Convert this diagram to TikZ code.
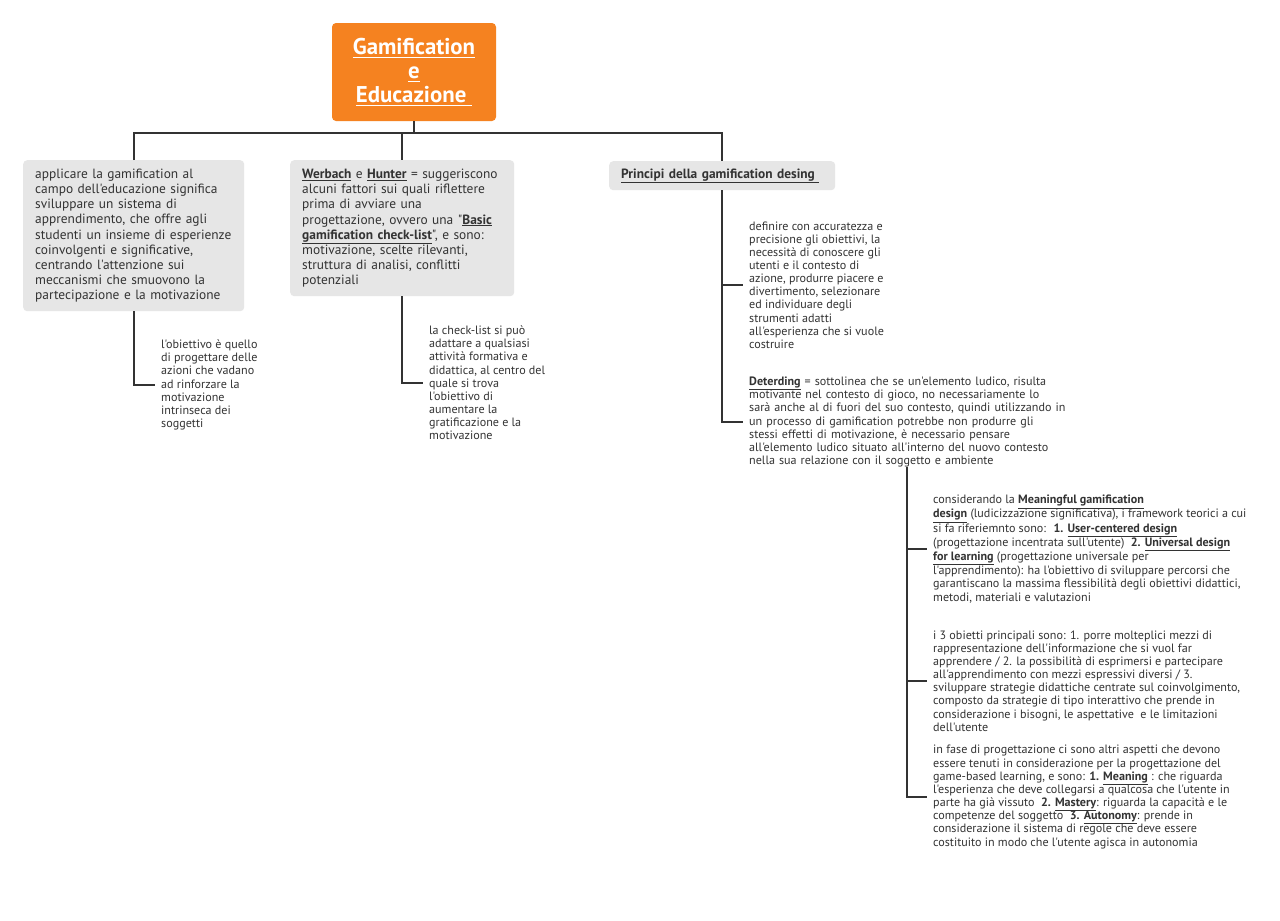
\documentclass[tikz,border=0pt]{standalone}
\usepackage{fontspec}
\setmainfont{PT Sans}[Ligatures=TeXOff]
\definecolor{orng}{HTML}{F58220}
\definecolor{boxg}{HTML}{E6E6E6}
\definecolor{linec}{HTML}{333333}
\definecolor{txt}{HTML}{333333}
\begin{document}
\begin{tikzpicture}[x=1pt,y=-1pt,
  conn/.style={draw=linec, line width=2pt},
  gbox/.style={fill=boxg, rounded corners=4pt, text=txt, align=left, inner xsep=12pt, inner ysep=0pt, anchor=north west, font=\fontsize{13.4}{15.2}\selectfont},
  leaf/.style={text=txt, align=left, anchor=west, inner xsep=6pt, inner ysep=0pt, font=\fontsize{12.1}{13.15}\selectfont}]
\useasboundingbox (0,0) rectangle (1280,921);
\fill[white] (0,0) rectangle (1280,921);

\node[fill=orng, rounded corners=4pt, minimum width=164pt, minimum height=98pt, inner sep=0pt, text=white, align=center, font=\bfseries\fontsize{22.8}{24}\selectfont] (title) at (414,72) {\underline{Gamification}\\\underline{e}\\\underline{Educazione~}};

\node[gbox, text width=197pt, minimum height=151pt] (b1) at (23,160) {applicare la gamification al\\campo dell'educazione significa\\sviluppare un sistema di\\apprendimento, che offre agli\\\mbox{studenti un insieme di esperienze}\\coinvolgenti e significative,\\centrando l'attenzione sui\\meccanismi che smuovono la\\partecipazione e la motivazione};

\node[gbox, text width=200pt, minimum height=136pt] (b2) at (290,160) {\underline{\textbf{Werbach}} e \underline{\textbf{Hunter}} = suggeriscono\\alcuni fattori sui quali riflettere\\prima di avviare una\\progettazione, ovvero una "\underline{\textbf{Basic}}\\\underline{\textbf{gamification check-list}}", e sono:\\motivazione, scelte rilevanti,\\struttura di analisi, conflitti\\potenziali};

\node[gbox, text width=202pt, minimum height=29pt] (b3) at (609,161) {\underline{\textbf{Principi della gamification desing~}}};

\node[leaf] (t1) at (155,385) {l'obiettivo è quello\\di progettare delle\\azioni che vadano\\ad rinforzare la\\motivazione\\intrinseca dei\\soggetti};

\node[leaf] (t2) at (423,383) {la check-list si può\\adattare a qualsiasi\\attività formativa e\\didattica, al centro del\\quale si trova\\l'obiettivo di\\aumentare la\\gratificazione e la\\motivazione};

\node[leaf] (t3a) at (743,285) {definire con accuratezza e\\precisione gli obiettivi, la\\necessità di conoscere gli\\utenti e il contesto di\\azione, produrre piacere e\\divertimento, selezionare\\ed individuare degli\\strumenti adatti\\all'esperienza che si vuole\\costruire};

\node[leaf, text width=316pt] (t3b) at (743,422) {\mbox{\underline{\textbf{Deterding}} = sottolinea che se un'elemento ludico, risulta}\\\mbox{motivante nel contesto di gioco, no necessariamente lo}\\\mbox{sarà anche al di fuori del suo contesto, quindi utilizzando in}\\\mbox{un processo di gamification potrebbe non produrre gli}\\\mbox{stessi effetti di motivazione, è necessario pensare}\\\mbox{all'elemento ludico situato all'interno del nuovo contesto}\\\mbox{nella sua relazione con il soggetto e ambiente}};

\node[leaf] (t4a) at (927,549) {considerando la \underline{\textbf{Meaningful gamification}}\\\underline{\textbf{design}} (ludicizzazione significativa), i framework teorici a cui\\si fa riferiemnto sono:~ \textbf{1. \underline{User-centered design}}\\(progettazione incentrata sull'utente)~ \textbf{2. \underline{Universal design}}\\\textbf{\underline{for learning}} (progettazione universale per\\l'apprendimento): ha l'obiettivo di sviluppare percorsi che\\garantiscano la massima flessibilità degli obiettivi didattici,\\metodi, materiali e valutazioni};

\node[leaf] (t4b) at (927,681) {i 3 obietti principali sono: 1. porre molteplici mezzi di\\rappresentazione dell'informazione che si vuol far\\apprendere / 2. la possibilità di esprimersi e partecipare\\all'apprendimento con mezzi espressivi diversi / 3.\\sviluppare strategie didattiche centrate sul coinvolgimento,\\composto da strategie di tipo interattivo che prende in\\considerazione i bisogni, le aspettative~ e le limitazioni\\dell'utente};

\node[leaf] (t4c) at (927,797) {in fase di progettazione ci sono altri aspetti che devono\\essere tenuti in considerazione per la progettazione del\\game-based learning, e sono: \textbf{1. \underline{Meaning}} : che riguarda\\l'esperienza che deve collegarsi a qualcosa che l'utente in\\parte ha già vissuto~ \textbf{2. \underline{Mastery}}: riguarda la capacità e le\\competenze del soggetto~ \textbf{3. \underline{Autonomy}}: prende in\\considerazione il sistema di regole che deve essere\\costituito in modo che l'utente agisca in autonomia};

\coordinate (hub) at (414,133);
\draw[conn] (title.south) -- (hub);
\draw[conn] (b1.north) |- (hub) -| (b3.north);
\draw[conn] (b2.north |- hub) -- (b2.north);
\draw[conn] (b1.south) |- (t1.west);
\draw[conn] (b2.south) |- (t2.west);
\draw[conn] (b3.south) |- (t3a.west);
\draw[conn] (b3.south) |- (t3b.west);
\draw[conn] (t3b.south) |- (t4a.west);
\draw[conn] (t3b.south) |- (t4b.west);
\draw[conn] (t3b.south) |- (t4c.west);
\end{tikzpicture}
\end{document}
